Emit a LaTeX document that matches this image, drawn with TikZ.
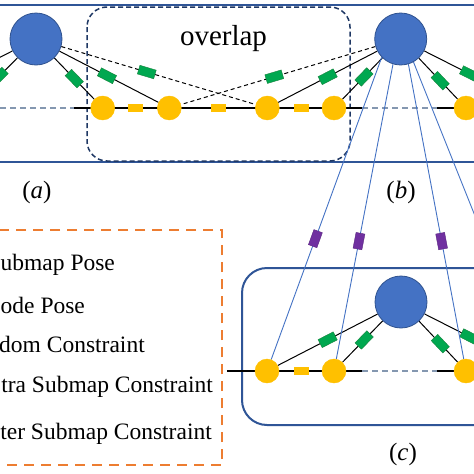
\documentclass[tikz,border=0pt]{standalone}
\usepackage{fontspec}
\setmainfont{Liberation Serif}
\usetikzlibrary{calc}
\definecolor{bnode}{RGB}{68,114,196}
\definecolor{bnodeb}{RGB}{47,82,143}
\definecolor{ynode}{RGB}{255,192,0}
\definecolor{gbox}{RGB}{0,168,80}
\definecolor{gboxb}{RGB}{20,130,60}
\definecolor{pbox}{RGB}{112,48,160}
\definecolor{frameblue}{RGB}{47,85,151}
\definecolor{navy}{RGB}{31,56,100}
\definecolor{orng}{RGB}{237,125,49}
\definecolor{rowgray}{RGB}{132,151,176}
\pgfdeclarelayer{bg}
\pgfsetlayers{bg,main}
\begin{document}
\begin{tikzpicture}[x=1pt,y=-1pt,
  submap/.style={circle, fill=bnode, draw=bnodeb, line width=0.8pt, minimum size=52pt, inner sep=0pt},
  posenode/.style={circle, fill=ynode, draw=ynode, line width=0.4pt, minimum size=24pt, inner sep=0pt},
  odombox/.style={rectangle, fill=ynode, minimum width=15pt, minimum height=8pt, inner sep=0pt},
  intrabox/.style={rectangle, solid, fill=gbox, draw=gboxb, line width=0.4pt, minimum width=17pt, minimum height=9pt, inner sep=0pt, sloped},
  interbox/.style={rectangle, solid, fill=pbox, draw=pbox!80!black, line width=0.4pt, minimum width=16pt, minimum height=9pt, inner sep=0pt, sloped},
  edge/.style={black, line width=1pt},
  dedge/.style={black, line width=1pt, dash pattern=on 4pt off 3pt},
  rowline/.style={black, line width=2.6pt},
  rowdash/.style={rowgray, line width=1.5pt, dash pattern=on 6pt off 4pt},
  blueline/.style={bnode, line width=0.9pt},
  legtext/.style={font=\fontsize{23.5}{26}\selectfont, inner sep=0pt, anchor=base east},
  sublabel/.style={font=\fontsize{25}{27}\selectfont, inner sep=0pt}
]
\useasboundingbox (0,0) rectangle (474,474);
\clip (0,0) rectangle (474,474);

% submap poses
\node[submap] (A) at (36,39) {};
\node[submap] (B) at (400.7,39) {};
\node[submap] (C) at (401,302) {};

% node poses, row (a)/(b)
\node[posenode] (pl2) at (-100,108) {};
\node[posenode] (pl1) at (-32,108) {};
\node[posenode] (p1) at (102.7,108) {};
\node[posenode] (p2) at (169.3,108) {};
\node[posenode] (p3) at (267.3,108) {};
\node[posenode] (p4) at (334,108) {};
\node[posenode] (p5) at (466,108) {};
\node[posenode] (pr1) at (537,108) {};

% node poses, row (c)
\node[posenode] (q3) at (267,371) {};
\node[posenode] (q4) at (334,371) {};
\node[posenode] (q5) at (466,371) {};
\node[posenode] (qr1) at (537,371) {};

% odom constraints
\node[odombox] (o1) at (135.7,108) {};
\node[odombox] (o2) at (218,108) {};
\node[odombox] (o3) at (301.7,108) {};
\node[odombox] (o4) at (301,371) {};

% row line coordinates
\coordinate (ra0) at (-10,108);
\coordinate (ra1) at (74,108);
\coordinate (ra2) at (362,108);
\coordinate (ra3) at (437,108);
\coordinate (ra4) at (490,108);
\coordinate (rc1) at (227,371);
\coordinate (rc2) at (362,371);
\coordinate (rc3) at (437,371);
\coordinate (rc4) at (490,371);

% texts
\node[font=\fontsize{29}{32}\selectfont, anchor=base, inner sep=0pt] (ov) at (223.5,45) {overlap};
\node[sublabel] (la) at (37,192) {(\textit{a})};
\node[sublabel] (lb) at (401,192) {(\textit{b})};
\node[sublabel] (lc) at (403,454) {(\textit{c})};
\node[legtext, anchor=base west] (l1) at (0.5,270) {ubmap Pose};
\node[legtext, anchor=base west] (l2) at (0.5,313) {ode Pose};
\node[legtext] (l3) at (145,352.5) {dom Constraint};
\node[legtext] (l4) at (213,392.5) {tra Submap Constraint};
\node[legtext] (l5) at (212,439) {ter Submap Constraint};

\begin{pgfonlayer}{bg}
\begin{scope}
\fill[white] (0,0) rectangle (474,474);
\clip (0,0) rectangle (474,474);
% frames
\draw[frameblue, line width=2pt] (-20,5) rectangle (494,162);
\draw[navy, line width=1.5pt, dash pattern=on 5pt off 3pt, rounded corners=20pt] (87,7) rectangle (350,161);
\draw[frameblue, line width=2pt, rounded corners=25pt] (242,268) rectangle (520,425);
\draw[orng, line width=2.5pt, dash pattern=on 10pt off 7pt] (-30,230) rectangle (222,465);

% row lines
\draw[rowdash] (ra0) -- (ra1);
\draw[rowline] (ra1) -- (ra2);
\draw[rowdash] (ra2) -- (ra3);
\draw[rowline] (ra3) -- (ra4);
\draw[rowline] (rc1) -- (rc2);
\draw[rowdash] (rc2) -- (rc3);
\draw[rowline] (rc3) -- (rc4);

% intra submap constraints (a)
\draw[edge] (A) -- node[intrabox,pos=0.5]{} (p1);
\draw[edge] (A) -- node[intrabox,pos=0.48]{} (p2);
\draw[dedge] (A) -- node[intrabox,pos=0.44]{} (p3);
\draw[edge] (A) -- node[intrabox,pos=0.45]{} (pl1);
\draw[edge] (A) -- node[intrabox,pos=0.5]{} (pl2);
% (b)
\draw[dedge] (B) -- node[intrabox,pos=0.52]{} (p2);
\draw[edge] (B) -- node[intrabox,pos=0.5]{} (p3);
\draw[edge] (B) -- node[intrabox,pos=0.46]{} (p4);
\draw[edge] (B) -- node[intrabox,pos=0.55]{} (p5);
\draw[edge] (B) -- node[intrabox,pos=0.44]{} (pr1);
% (c)
\draw[edge] (C) -- node[intrabox,pos=0.5]{} (q3);
\draw[edge] (C) -- node[intrabox,pos=0.46]{} (q4);
\draw[edge] (C) -- node[intrabox,pos=0.55]{} (q5);
\draw[edge] (C) -- node[intrabox,pos=0.44]{} (qr1);

% inter submap constraints
\draw[blueline] (B.224) -- node[interbox,pos=0.6]{} (q3);
\draw[blueline] (B.253) -- node[interbox,pos=0.6]{} (q4);
\draw[blueline] (B.287) -- node[interbox,pos=0.6]{} (q5);
\draw[blueline] (B.299) -- node[interbox,pos=0.6]{} (qr1);
\end{scope}
\end{pgfonlayer}
\end{tikzpicture}
\end{document}
